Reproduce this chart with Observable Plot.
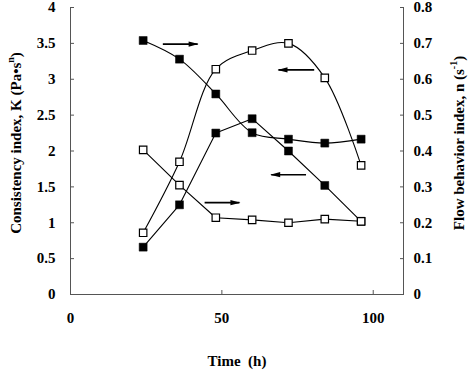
<!DOCTYPE html>
<html><head><meta charset="utf-8">
<script src="https://cdn.jsdelivr.net/npm/d3@7"></script>
<script src="https://cdn.jsdelivr.net/npm/@observablehq/plot@0.6"></script>
<style>
body{margin:0;background:#fff}
#chart svg{font-family:"Liberation Serif","Times New Roman",serif}
</style>
</head><body><div id="chart"></div>
<script>
// Time (h)
const hours = [24, 36, 48, 60, 72, 84, 96];
// Consistency index K (left axis)
const kFilled = [0.66, 1.25, 2.25, 2.45, 2.00, 1.52, 1.02];
const kOpen   = [0.86, 1.85, 3.14, 3.40, 3.50, 3.02, 1.80];
// Flow behavior index n (right axis)
const nFilled = [0.708, 0.656, 0.559, 0.451, 0.433, 0.422, 0.433];
const nOpen   = [0.403, 0.305, 0.214, 0.208, 0.200, 0.210, 0.204];
// tick labels
const leftTicks  = [0, 0.5, 1, 1.5, 2, 2.5, 3, 3.5, 4];
const rightTicks = [0, 0.1, 0.2, 0.3, 0.4, 0.5, 0.6, 0.7, 0.8];
const xTicks = [0, 50, 100];
// annotation arrows (x in hours, level on left axis)
const arrowFrom = [30.5, 80.5, 77.8, 44.3];
const arrowTo   = [42.0, 68.7, 66.3, 55.8];
const arrowK    = [3.49, 3.13, 1.67, 1.28];

const ratio = 4 / 0.8; // left axis units per right axis unit
const rows = hours.map((h, i) => ({h, kF: kFilled[i], kO: kOpen[i], nF: nFilled[i] * ratio, nO: nOpen[i] * ratio}));
const arrows = arrowFrom.map((x1, i) => ({x1, x2: arrowTo[i], k: arrowK[i]}));

// narrow filled arrowhead, tip at origin, pointing +x
const headSymbol = {draw(ctx) { ctx.moveTo(1, 0); ctx.lineTo(-9, -2.6); ctx.lineTo(-9, 2.6); ctx.closePath(); }};

const axisColor = "#555";
const font = {fontSize: 15, fontWeight: "bold", fill: "black"};

const plot = Plot.plot({
  width: 474, height: 374,
  marginLeft: 70, marginRight: 71, marginTop: 7, marginBottom: 80,
  style: {fontFamily: "Liberation Serif, serif", background: "white"},
  x: {domain: [0, 110]},
  y: {domain: [0, 4]},
  marks: [
    Plot.ruleX([0, 110], {stroke: axisColor}),
    Plot.ruleY([0], {stroke: axisColor}),
    Plot.axisY(leftTicks, {anchor: "left", tickSize: -4, tickPadding: 19, stroke: axisColor, label: null, tickFormat: d => String(d), ...font}),
    Plot.axisY(rightTicks.map(v => v * ratio), {anchor: "right", tickSize: -4, tickPadding: 14, stroke: axisColor, label: null, tickFormat: d => String(+(d / ratio).toFixed(1)), ...font}),
    Plot.axisX(xTicks, {anchor: "bottom", tickSize: -4, tickPadding: 22, stroke: axisColor, label: null, tickFormat: d => String(d), ...font}),
    Plot.line(rows, {x: "h", y: "kF", stroke: "black", strokeWidth: 1.1}),
    Plot.line(rows, {x: "h", y: "kO", stroke: "black", strokeWidth: 1.1, curve: "catmull-rom"}),
    Plot.line(rows, {x: "h", y: "nF", stroke: "black", strokeWidth: 1.1, curve: "catmull-rom"}),
    Plot.line(rows, {x: "h", y: "nO", stroke: "black", strokeWidth: 1.1}),
    Plot.link(arrows, {x1: "x1", x2: "x2", y1: "k", y2: "k", stroke: "black", strokeWidth: 1.6}),
    Plot.dot(arrows, {x: "x2", y: "k", symbol: headSymbol, r: 4, fill: "black", stroke: "none", rotate: d => d.x2 > d.x1 ? 0 : 180}),
    Plot.dot(rows, {x: "h", y: "kF", symbol: "square", r: 4.5, fill: "black", stroke: "black", strokeWidth: 0.5}),
    Plot.dot(rows, {x: "h", y: "nF", symbol: "square", r: 4.5, fill: "black", stroke: "black", strokeWidth: 0.5}),
    Plot.dot(rows, {x: "h", y: "kO", symbol: "square", r: 4.2, fill: "white", stroke: "black", strokeWidth: 1.2}),
    Plot.dot(rows, {x: "h", y: "nO", symbol: "square", r: 4.2, fill: "white", stroke: "black", strokeWidth: 1.2})
  ]
});

const svg = d3.select(plot);
function title(x, y, rotate, parts) {
  const t = svg.append("text")
    .attr("transform", `translate(${x},${y})` + (rotate ? ` rotate(${rotate})` : ""))
    .attr("text-anchor", "middle")
    .attr("dominant-baseline", "central")
    .attr("font-family", "Liberation Serif, serif")
    .attr("font-weight", "bold")
    .attr("font-size", 15)
    .attr("fill", "black");
  parts.forEach(([s, sup]) => {
    const ts = t.append("tspan").text(s);
    if (sup) ts.attr("baseline-shift", "super").attr("font-size", 10);
  });
}
title(16, 143, -90, [["Consistency index, K (Pa\u2022s"], ["n", true], [")"]]);
title(459, 143, -90, [["Flow behavior index, n (s"], ["-1", true], [")"]]);
title(237, 361, 0, [["Time\u00a0 (h)"]]);

document.getElementById("chart").append(plot);
</script>
</body></html>
